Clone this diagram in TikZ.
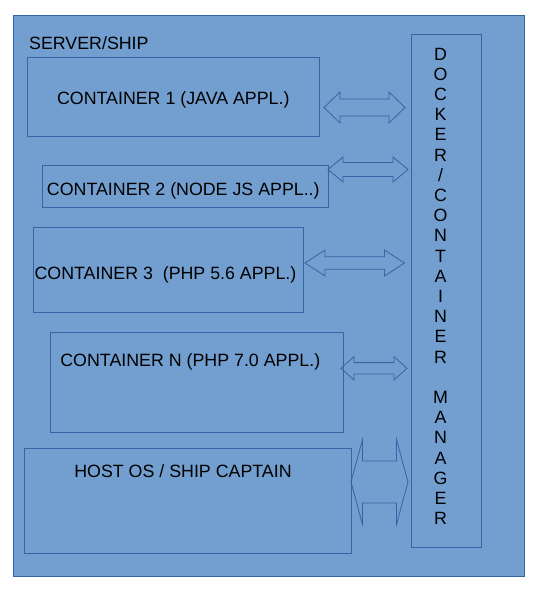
\documentclass[tikz,border=0pt]{standalone}
\usepackage{fontspec}
\setmainfont{Liberation Sans}
\usepackage{tikz}
\usetikzlibrary{positioning,calc}

\definecolor{shipfill}{HTML}{729FCF}
\definecolor{shipline}{HTML}{3465A4}

\begin{document}
\begin{tikzpicture}[x=1pt,y=-1pt,
    box/.style={draw=shipline, line width=1pt, fill=shipfill, inner sep=0pt,
                anchor=north west},
    txt/.style={font=\fontsize{17.8}{20.2}\selectfont, inner sep=0pt, anchor=base},
    twoway/.style={draw=shipline, line width=0.8pt}]
  \useasboundingbox (0,0) rectangle (544,590);

  \node[box, minimum width=510.7, minimum height=560.8] (ship) at (13.3,14.7) {};
  \node[txt, anchor=base west] (shiplabel) at (29,49) {SERVER/SHIP};

  \node[box, minimum width=292, minimum height=79] (c1) at (27,57) {};
  \node[box, minimum width=286.6, minimum height=42.3] (c2) at (41.7,165) {};
  \node[box, minimum width=269.4, minimum height=84.4] (c3) at (33.3,227.3) {};
  \node[box, minimum width=292.7, minimum height=99.4] (cN) at (50,332.3) {};
  \node[box, minimum width=326.7, minimum height=105] (host) at (24.3,448.3) {};
  \node[box, minimum width=70.6, minimum height=512.7] (manager) at (410.7,34.3) {};

  \node[txt] (c1txt) at (173.3,104) {CONTAINER 1 (JAVA APPL.)};
  \node[txt] (c2txt) at (183.3,195.7) {CONTAINER 2 (NODE JS APPL..)};
  \node[txt] (c3txt) at (165.5,279.3) {CONTAINER 3~~(PHP 5.6 APPL.)};
  \node[txt] (cNtxt) at (190.3,366.7) {CONTAINER N (PHP 7.0 APPL.)};
  \node[txt] (hosttxt) at (183,477.7) {HOST OS / SHIP CAPTAIN};
  % base sits on the last line here
  \node[txt, align=center] (managertxt) at (440.5,524.6)
    {D\\O\\C\\K\\E\\R\\/\\C\\O\\N\\T\\A\\I\\N\\E\\R\\~\\M\\A\\N\\A\\G\\E\\R};

  % left tip / right tip / middle / head length / half shaft / half head
  \foreach \a/\b/\y/\h/\s/\w in {324/405/107.5/16/8.5/15.5,
                                  328/408/169.5/15/7/12.5,
                                  305/404.5/263/20/6.3/13,
                                  341/407/368.3/13/5.7/11.7,
                                  351/408/482/11.5/21/42.5}
    \draw[twoway] (\a,\y) -- ({\a+\h},{\y-\w}) -- ({\a+\h},{\y-\s})
      -- ({\b-\h},{\y-\s}) -- ({\b-\h},{\y-\w}) -- (\b,\y)
      -- ({\b-\h},{\y+\w}) -- ({\b-\h},{\y+\s}) -- ({\a+\h},{\y+\s})
      -- ({\a+\h},{\y+\w}) -- cycle;

\end{tikzpicture}
\end{document}
